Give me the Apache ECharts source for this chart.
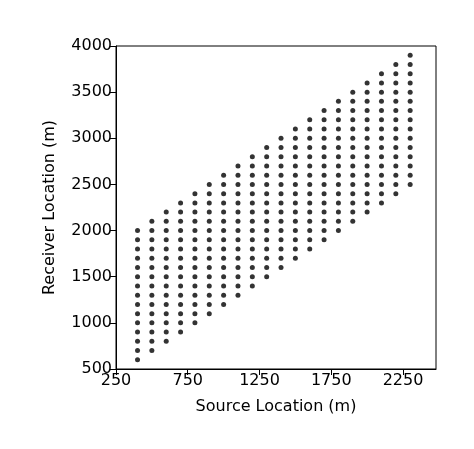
<!DOCTYPE html>
<html>
<head>
<meta charset="utf-8">
<script src="https://cdn.jsdelivr.net/npm/echarts@6/dist/echarts.min.js"></script>
<style>html,body{margin:0;padding:0;background:#fff}#main{width:474px;height:449px}</style>
</head>
<body>
<div id="main"></div>
<script>
// source positions (m) and the receiver span recorded for each shot
const sources = [400, 500, 600, 700, 800, 900, 1000, 1100, 1200, 1300, 1400, 1500, 1600, 1700, 1800, 1900, 2000, 2100, 2200, 2300]
const receiverFirst = [600, 700, 800, 900, 1000, 1100, 1200, 1300, 1400, 1500, 1600, 1700, 1800, 1900, 2000, 2100, 2200, 2300, 2400, 2500]
const receiverLast = [2000, 2100, 2200, 2300, 2400, 2500, 2600, 2700, 2800, 2900, 3000, 3100, 3200, 3300, 3400, 3500, 3600, 3700, 3800, 3900]
const receiverSpacing = 100
const xTicks = [250, 750, 1250, 1750, 2250]
const yTicks = [500, 1000, 1500, 2000, 2500, 3000, 3500, 4000]

let points = []
sources.forEach((s, i) => {
    for (let r = receiverFirst[i]; r <= receiverLast[i]; r += receiverSpacing) {
        points.push([s, r])
    }
})

let myChart = echarts.init(document.getElementById('main'))
const font = 'DejaVu Sans, sans-serif'
const axisCommon = {
    axisLine: { show: true, lineStyle: { color: '#000', width: 1 } },
    splitLine: { show: false },
    nameTextStyle: { color: '#000', fontSize: 16, fontFamily: font }
}
myChart.setOption({
    animation: false,
    grid: { left: 116, right: 38, top: 46, bottom: 80, show: true, borderColor: '#000', borderWidth: 1 },
    xAxis: Object.assign({}, axisCommon, {
        type: 'value',
        min: 250,
        max: 2480,
        name: 'Source Location (m)',
        nameLocation: 'middle',
        nameGap: 30,
        axisTick: { show: true, length: 6, lineStyle: { color: '#000' }, customValues: xTicks },
        axisLabel: { color: '#000', fontSize: 16, fontFamily: font, margin: 4, customValues: xTicks, formatter: v => String(v) }
    }),
    yAxis: Object.assign({}, axisCommon, {
        type: 'value',
        min: 500,
        max: 4000,
        name: 'Receiver Location (m)',
        nameLocation: 'middle',
        nameGap: 58,
        axisTick: { show: true, length: 6, lineStyle: { color: '#000' }, customValues: yTicks },
        axisLabel: { color: '#000', fontSize: 16, fontFamily: font, margin: 4, customValues: yTicks, formatter: v => String(v) }
    }),
    series: [{
        type: 'scatter',
        data: points,
        symbolSize: 5,
        itemStyle: { color: '#000' }
    }]
})
</script>
</body>
</html>
